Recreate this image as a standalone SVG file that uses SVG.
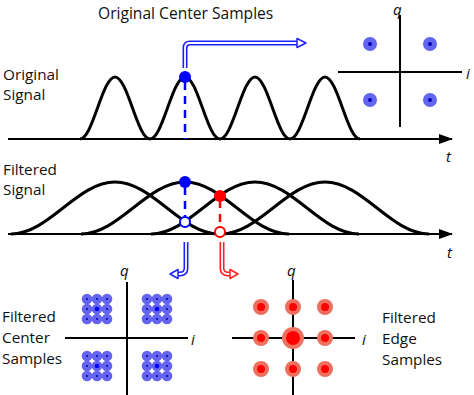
<svg xmlns="http://www.w3.org/2000/svg" xmlns:xlink="http://www.w3.org/1999/xlink" width="474" height="395" viewBox="0 0 474 395">
<style>
text{font-family:"Open Sans","DejaVu Sans",sans-serif;font-size:15.3px;fill:#111}
.title{font-size:15.6px}
.it{font-style:italic;font-size:15px}
.ax{stroke:#000;stroke-width:2;fill:none}
.pulse{stroke:#000;stroke-width:3;fill:none}
.bo{fill:#6464f0}
.bi{fill:#0000b0}
</style>
<defs>
<marker id="ah" viewBox="0 0 14 10" refX="13" refY="5" markerWidth="14" markerHeight="10" markerUnits="userSpaceOnUse" orient="auto"><path d="M0,0 L14,5 L0,10 Z" fill="#000"/></marker>
<g id="cluster">
<g class="bo">
<circle cx="-10" cy="-10" r="5.3"/><circle cx="0" cy="-10" r="5.3"/><circle cx="10" cy="-10" r="5.3"/>
<circle cx="-10" cy="0" r="5.3"/><circle cx="0" cy="0" r="5.3"/><circle cx="10" cy="0" r="5.3"/>
<circle cx="-10" cy="10" r="5.3"/><circle cx="0" cy="10" r="5.3"/><circle cx="10" cy="10" r="5.3"/>
</g>
<g fill="#0000a0">
<circle cx="-10" cy="-10" r="1"/><circle cx="0" cy="-10" r="1"/><circle cx="10" cy="-10" r="1"/>
<circle cx="-10" cy="0" r="1"/><circle cx="10" cy="0" r="1"/>
<circle cx="-10" cy="10" r="1"/><circle cx="0" cy="10" r="1"/><circle cx="10" cy="10" r="1"/>
</g>
<circle cx="0" cy="0" r="2.3" fill="#0000ff"/>
</g>
</defs>

<rect width="474" height="395" fill="#fff"/>

<g id="labels">
<text class="title" x="98" y="19">Original Center Samples</text>
<text x="3" y="80">Original</text>
<text x="3" y="100">Signal</text>
<text x="3" y="175">Filtered</text>
<text x="3" y="195">Signal</text>
<text x="2" y="322">Filtered</text>
<text x="2" y="343">Center</text>
<text x="2" y="364">Samples</text>
<text x="382" y="323">Filtered</text>
<text x="382" y="344">Edge</text>
<text x="382" y="365">Samples</text>
</g>

<g id="original-signal">
<line class="ax" x1="8" y1="139" x2="452" y2="139" marker-end="url(#ah)"/>
<text class="it" x="446" y="162">t</text>
<path class="pulse" d="M80,139 C92.7,139 102.3,77 115,77 C127.7,77 137.3,139 150,139 C162.7,139 172.3,77 185,77 C197.7,77 207.3,139 220,139 C232.7,139 242.3,77 255,77 C267.7,77 277.3,139 290,139 C302.7,139 312.3,77 325,77 C337.7,77 347.3,139 360,139"/>
</g>

<g id="filtered-signal">
<line class="ax" x1="8" y1="234" x2="452" y2="234" marker-end="url(#ah)"/>
<text class="it" x="447" y="258">t</text>
<path class="pulse" d="M11,234 C48.9,234 77.1,182 115,182 C152.9,182 181.1,234 219,234"/>
<path class="pulse" d="M81,234 C118.9,234 147.1,182 185,182 C222.9,182 251.1,234 289,234"/>
<path class="pulse" d="M151,234 C188.9,234 217.1,182 255,182 C292.9,182 321.1,234 359,234"/>
<path class="pulse" d="M221,234 C258.9,234 287.1,182 325,182 C362.9,182 391.1,234 429,234"/>
</g>

<g id="connectors">
<line x1="185" y1="82" x2="185" y2="139" stroke="#0000ff" stroke-width="2.5" stroke-dasharray="8,6"/>
<line x1="185" y1="187" x2="185" y2="222" stroke="#0000ff" stroke-width="2.5" stroke-dasharray="8,6"/>
<line x1="220" y1="200" x2="220" y2="232" stroke="#ff0000" stroke-width="2.5" stroke-dasharray="8,6"/>
<path d="M185,68 L185,48 Q185,43 190,43 L298,43" fill="none" stroke="#2020ff" stroke-width="5"/>
<path d="M185,68 L185,48 Q185,43 190,43 L299,43" fill="none" stroke="#fff" stroke-width="1.8"/>
<path d="M297,38.5 L306,43 L297,47.5 Z" fill="#fff" stroke="#2020ff" stroke-width="1.5" stroke-linejoin="round"/>
<path d="M186,242 L186,268 Q186,274 180,274 L178,274" fill="none" stroke="#2020ff" stroke-width="5"/>
<path d="M186,242 L186,268 Q186,274 180,274 L177,274" fill="none" stroke="#fff" stroke-width="1.8"/>
<path d="M178,269.5 L170,274 L178,278.5 Z" fill="#fff" stroke="#2020ff" stroke-width="1.5" stroke-linejoin="round"/>
<path d="M222,242 L222,268 Q222,274 228,274 L230,274" fill="none" stroke="#ff2020" stroke-width="5"/>
<path d="M222,242 L222,268 Q222,274 228,274 L231,274" fill="none" stroke="#fff" stroke-width="1.8"/>
<path d="M230,269.5 L238,274 L230,278.5 Z" fill="#fff" stroke="#ff2020" stroke-width="1.5" stroke-linejoin="round"/>
</g>

<g id="sample-points">
<circle cx="185" cy="77" r="6" fill="#0000ff"/>
<circle cx="185" cy="182" r="6" fill="#0000ff"/>
<circle cx="220" cy="196" r="6" fill="#ff0000"/>
<circle cx="185" cy="222" r="5" fill="#fff" stroke="#0000ff" stroke-width="2"/>
<circle cx="220" cy="232" r="5" fill="#fff" stroke="#ff0000" stroke-width="2"/>
</g>

<g id="const-original">
<line class="ax" x1="400" y1="15" x2="400" y2="127"/>
<line class="ax" x1="338" y1="72" x2="462" y2="72"/>
<text class="it" x="393" y="15">q</text>
<text class="it" x="466" y="79">i</text>
<circle class="bo" cx="370" cy="44" r="7"/><circle class="bi" cx="370" cy="44" r="2"/>
<circle class="bo" cx="430" cy="44" r="7"/><circle class="bi" cx="430" cy="44" r="2"/>
<circle class="bo" cx="370" cy="100" r="7"/><circle class="bi" cx="370" cy="100" r="2"/>
<circle class="bo" cx="430" cy="100" r="7"/><circle class="bi" cx="430" cy="100" r="2"/>
</g>

<g id="const-center">
<line class="ax" x1="127" y1="282" x2="127" y2="395"/>
<line class="ax" x1="65" y1="338" x2="188" y2="338"/>
<text class="it" x="120" y="276">q</text>
<text class="it" x="191" y="345">i</text>
<use xlink:href="#cluster" x="97" y="309"/>
<use xlink:href="#cluster" x="157" y="309"/>
<use xlink:href="#cluster" x="97" y="366"/>
<use xlink:href="#cluster" x="157" y="366"/>
</g>

<g id="const-edge">
<line class="ax" x1="293" y1="280" x2="293" y2="395"/>
<line class="ax" x1="232" y1="338" x2="355" y2="338"/>
<text class="it" x="287" y="276">q</text>
<text class="it" x="362" y="345">i</text>
<g fill="#f07060">
<circle cx="261" cy="307" r="8"/><circle cx="293" cy="307" r="8"/><circle cx="325" cy="307" r="8"/>
<circle cx="261" cy="338" r="8"/><circle cx="293" cy="338" r="11"/><circle cx="325" cy="338" r="8"/>
<circle cx="261" cy="369" r="8"/><circle cx="293" cy="369" r="8"/><circle cx="325" cy="369" r="8"/>
</g>
<g fill="#ff0000">
<circle cx="261" cy="307" r="4"/><circle cx="293" cy="307" r="4"/><circle cx="325" cy="307" r="4"/>
<circle cx="261" cy="338" r="4"/><circle cx="293" cy="338" r="7"/><circle cx="325" cy="338" r="4"/>
<circle cx="261" cy="369" r="4"/><circle cx="293" cy="369" r="4"/><circle cx="325" cy="369" r="4"/>
</g>
</g>
</svg>
